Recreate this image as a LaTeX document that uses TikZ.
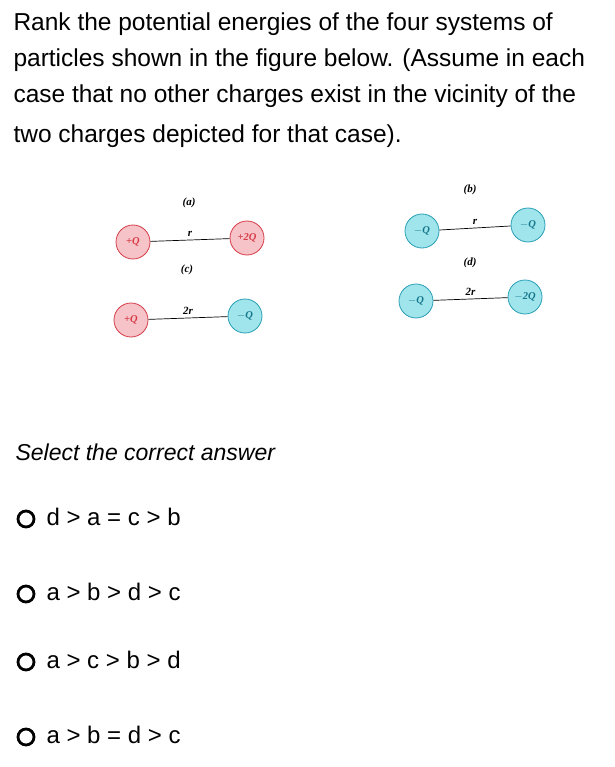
\documentclass[tikz,border=0pt]{standalone}
\usepackage{fontspec}
\setmainfont{Liberation Sans}
\newfontfamily\serifit{Liberation Serif}
\definecolor{pfill}{RGB}{246,196,200}
\definecolor{pdraw}{RGB}{214,60,72}
\definecolor{nfill}{RGB}{160,228,236}
\definecolor{ndraw}{RGB}{40,160,180}
\definecolor{ntext}{RGB}{20,120,140}
\begin{document}
\begin{tikzpicture}[x=1pt,y=-1pt,
  poscharge/.style={circle,draw=pdraw,fill=pfill,line width=0.8pt,minimum size=34pt,inner sep=0pt,text=pdraw,font=\serifit\bfseries\itshape\fontsize{10.5}{11}\selectfont},
  negcharge/.style={circle,draw=ndraw,fill=nfill,line width=0.8pt,minimum size=34pt,inner sep=0pt,text=ntext,font=\serifit\bfseries\itshape\fontsize{10.5}{11}\selectfont},
  lab/.style={font=\serifit\bfseries\itshape\fontsize{11}{12}\selectfont},
  qtext/.style={anchor=west,font=\fontsize{24.5}{28}\selectfont},
  opt/.style={anchor=west,font=\fontsize{24}{28}\selectfont},
  radio/.style={circle,draw=black,line width=2.8pt,minimum size=16pt,inner sep=0pt},
  link/.style={line width=0.7pt}]
\useasboundingbox (0,0) rectangle (614,767);
\fill[white] (0,0) rectangle (614,767);
\node[qtext] (t1) at (10,24) {Rank the potential energies of the four systems of};
\node[qtext] (t2) at (10,60) {particles shown in the figure below.  (Assume in each};
\node[qtext] (t3) at (10,96) {case that no other charges exist in the vicinity of the};
\node[qtext] (t4) at (10,136) {two charges depicted for that case).};
% (a)
\node[lab] (la) at (189,203) {(a)};
\node[poscharge] (a1) at (133,242) {+Q};
\node[poscharge] (a2) at (247,238) {+2Q};
\draw[link] (a1) -- node[lab,above] {r} (a2);
% (c)
\node[lab] (lc) at (187,270) {(c)};
\node[poscharge] (c1) at (131,320) {+Q};
\node[negcharge] (c2) at (245,316) {$-$Q};
\draw[link] (c1) -- node[lab,above] {2r} (c2);
% (b)
\node[lab] (lb) at (470,190) {(b)};
\node[negcharge] (b1) at (422,231) {$-$Q};
\node[negcharge] (b2) at (528,225) {$-$Q};
\draw[link] (b1) -- node[lab,above] {r} (b2);
% (d)
\node[lab] (ld) at (470,263) {(d)};
\node[negcharge] (d1) at (416,301) {$-$Q};
\node[negcharge] (d2) at (525,297) {$-$2Q};
\draw[link] (d1) -- node[lab,above] {2r} (d2);
% answers
\node[opt,font=\itshape\fontsize{23}{27}\selectfont] (sel) at (12,452) {Select the correct answer};
\node[radio] (r1) at (26,519) {};
\node[opt] (o1) at (43,517) {d > a = c > b};
\node[radio] (r2) at (26,594) {};
\node[opt] (o2) at (43,592) {a > b > d > c};
\node[radio] (r3) at (26,662) {};
\node[opt] (o3) at (43,660) {a > c > b > d};
\node[radio] (r4) at (26,737) {};
\node[opt] (o4) at (43,735) {a > b = d > c};
\end{tikzpicture}
\end{document}
